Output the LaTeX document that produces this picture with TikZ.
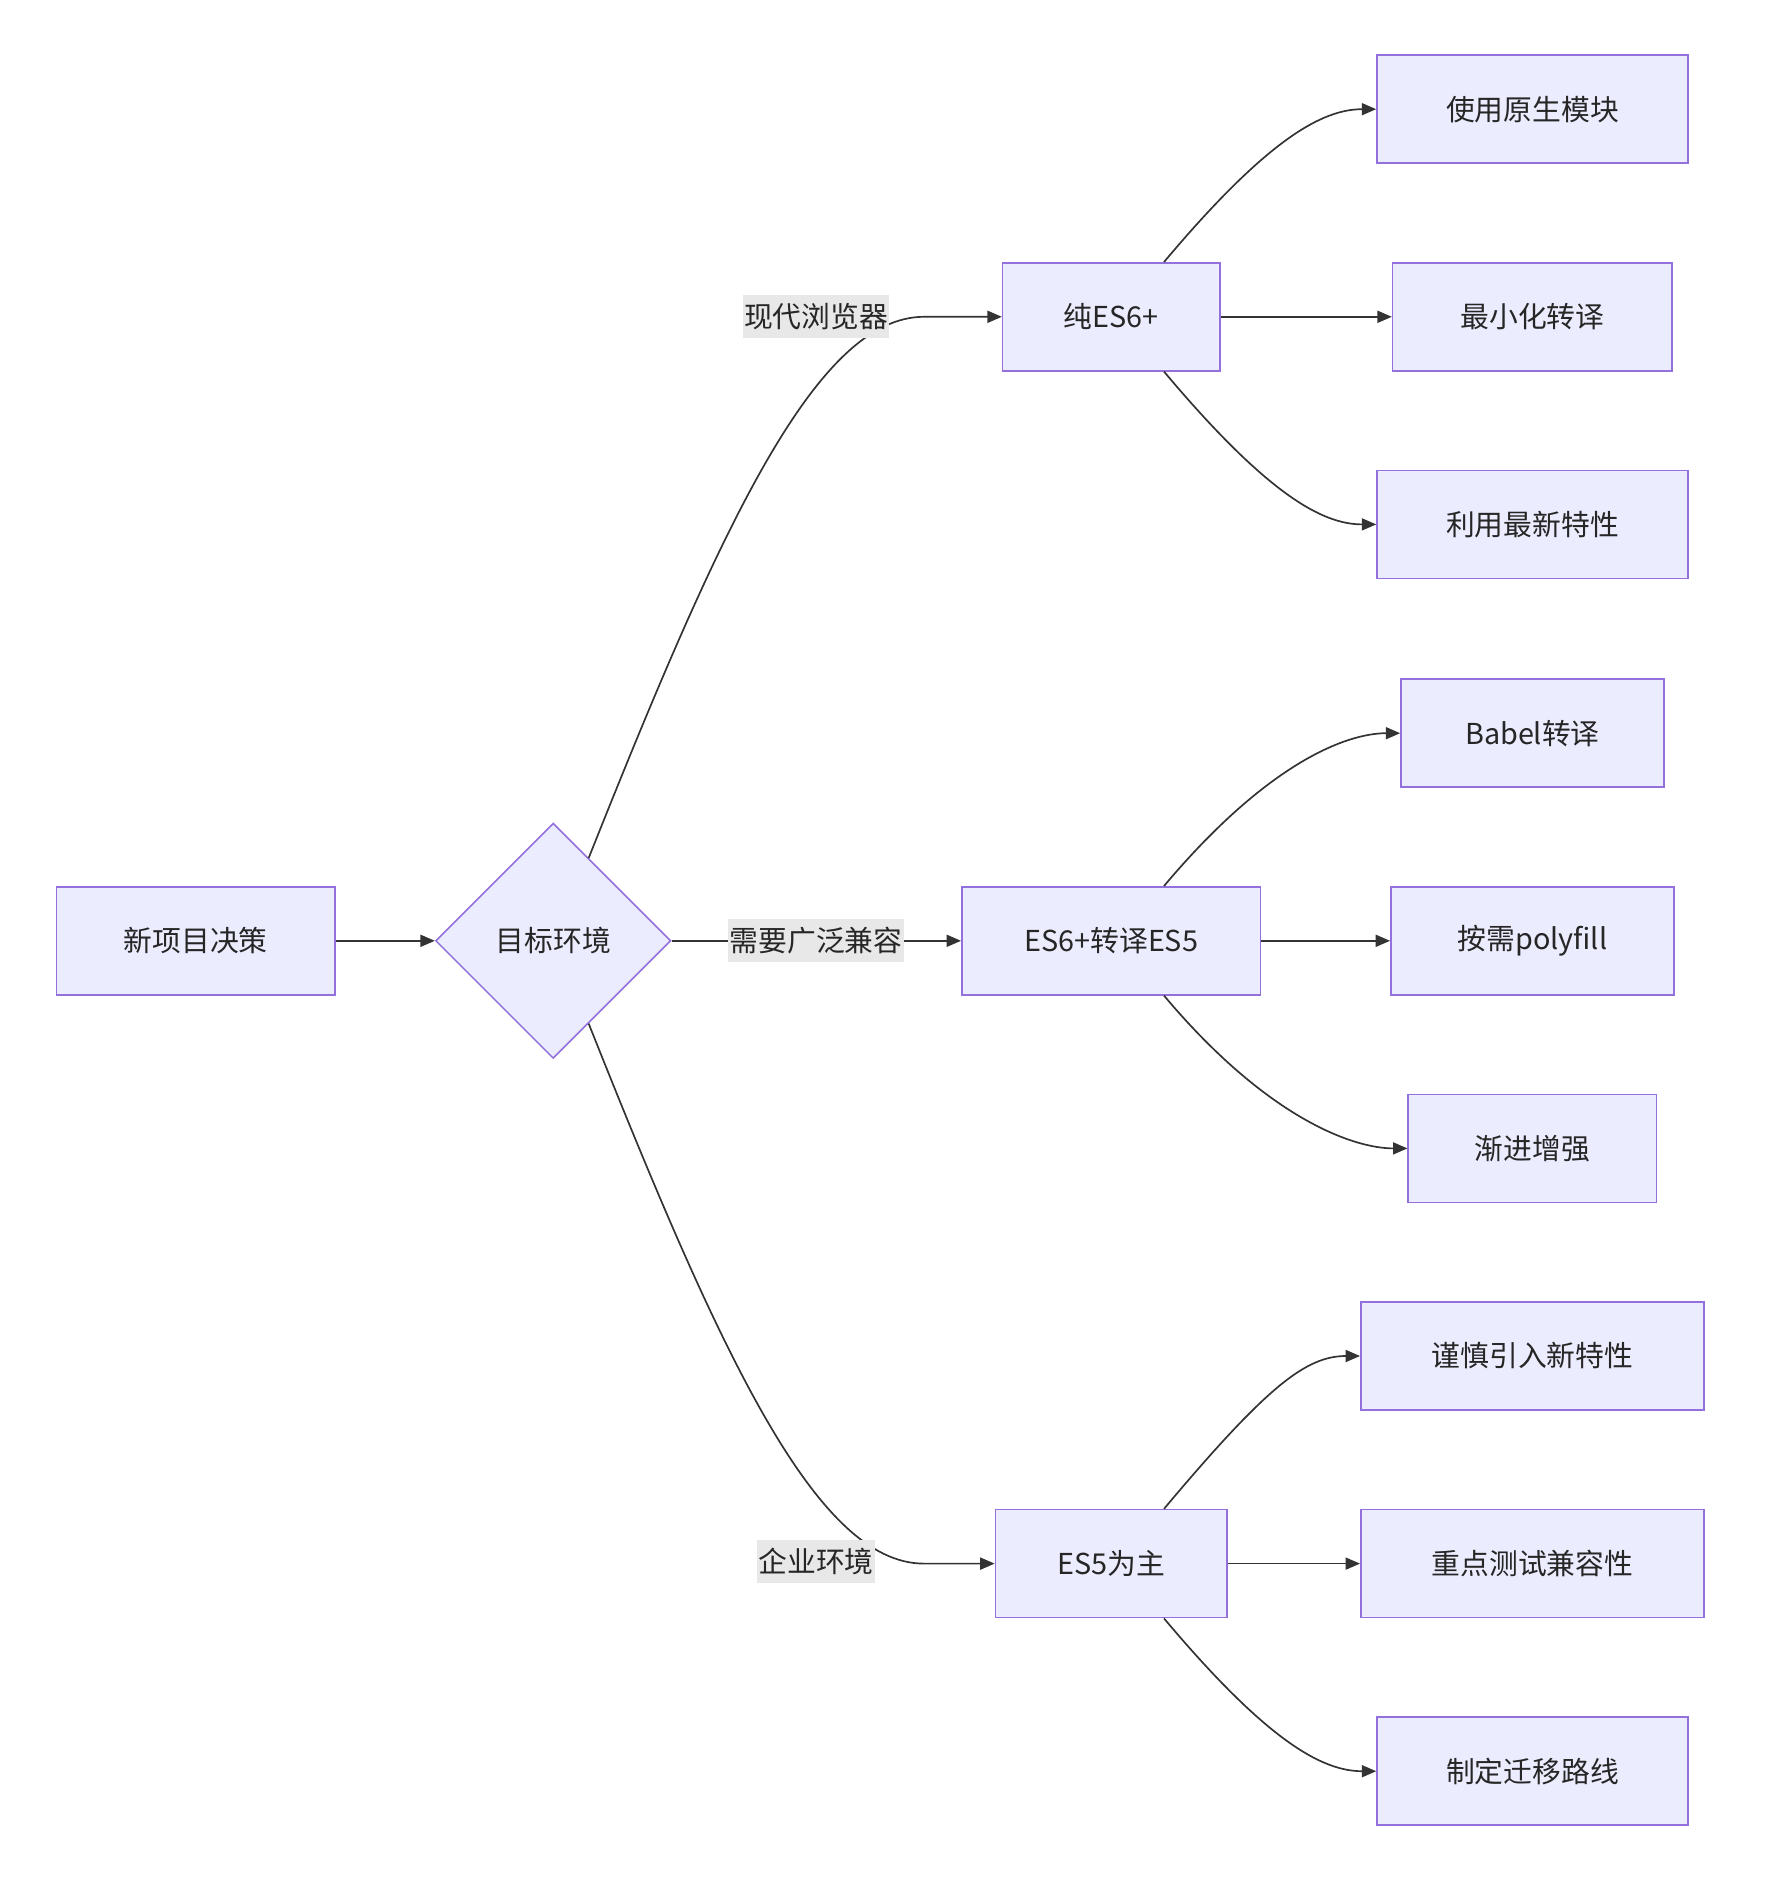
\documentclass[tikz,border=0pt]{standalone}
\usepackage{fontspec}
\setmainfont{Noto Sans CJK SC}
\usetikzlibrary{shapes.geometric,arrows.meta,calc}
\definecolor{boxfill}{HTML}{ECECFF}
\definecolor{boxline}{HTML}{9370DB}
\definecolor{lblfill}{HTML}{E8E8E8}
\definecolor{edge}{HTML}{333333}
\begin{document}
\begin{tikzpicture}[x=1pt,y=-1pt,
  box/.style={draw=boxline,fill=boxfill,line width=1.3pt,minimum height=90pt,font=\fontsize{24}{28}\selectfont,text=black!85,inner sep=0pt},
  dia/.style={draw=boxline,fill=boxfill,line width=1.3pt,diamond,minimum width=196pt,minimum height=196pt,aspect=1,font=\fontsize{24}{28}\selectfont,text=black!85,inner sep=0pt},
  lbl/.style={fill=lblfill,font=\fontsize{24}{28}\selectfont,text=black!85,inner sep=1pt,minimum height=36pt},
  con/.style={draw=edge,line width=1.4pt,-{Triangle[length=12pt,width=10pt]}}]
\useasboundingbox (0,0) rectangle (1470,1570);
\node[box,minimum width=232pt] (a) at (163,784) {新项目决策};
\node[dia] (d) at (461,784) {目标环境};
\node[box,minimum width=181pt] (m1) at (926,264) {纯ES6+};
\node[box,minimum width=249pt] (m2) at (926,784) {ES6+转译ES5};
\node[box,minimum width=193pt] (m3) at (926,1303) {ES5为主};
\node[box,minimum width=259pt] (r1) at (1277,91) {使用原生模块};
\node[box,minimum width=233pt] (r2) at (1277,264) {最小化转译};
\node[box,minimum width=259pt] (r3) at (1277,437) {利用最新特性};
\node[box,minimum width=219pt] (r4) at (1277,611) {Babel转译};
\node[box,minimum width=236pt] (r5) at (1277,784) {按需polyfill};
\node[box,minimum width=207pt] (r6) at (1277,957) {渐进增强};
\node[box,minimum width=286pt] (r7) at (1277,1130) {谨慎引入新特性};
\node[box,minimum width=286pt] (r8) at (1277,1303) {重点测试兼容性};
\node[box,minimum width=259pt] (r9) at (1277,1476) {制定迁移路线};
\draw[con] (a.east) -- (d.west);
\draw[con] ($(d.north)!0.3!(d.east)$) .. controls (600,440) and (680,264) .. (770,264) -- (m1.west);
\draw[con] ($(d.south)!0.3!(d.east)$) .. controls (600,1128) and (680,1303) .. (770,1303) -- (m3.west);
\draw[con] (d.east) -- (m2.west);
\node[lbl] (l1) at (680,264) {现代浏览器};
\node[lbl] (l2) at (680,784) {需要广泛兼容};
\node[lbl] (l3) at (680,1301) {企业环境};
\foreach \m/\a/\b/\c in {m1/r1/r2/r3,m2/r4/r5/r6,m3/r7/r8/r9}{
  \draw[con] ([xshift=44pt]\m.north) .. controls ([xshift=130pt,yshift=-25pt]\m.north |- \a.west) and ([xshift=-45pt]\a.west) .. (\a.west);
  \draw[con] (\m.east) -- (\b.west);
  \draw[con] ([xshift=44pt]\m.south) .. controls ([xshift=130pt,yshift=25pt]\m.south |- \c.west) and ([xshift=-45pt]\c.west) .. (\c.west);
}
\end{tikzpicture}
\end{document}
